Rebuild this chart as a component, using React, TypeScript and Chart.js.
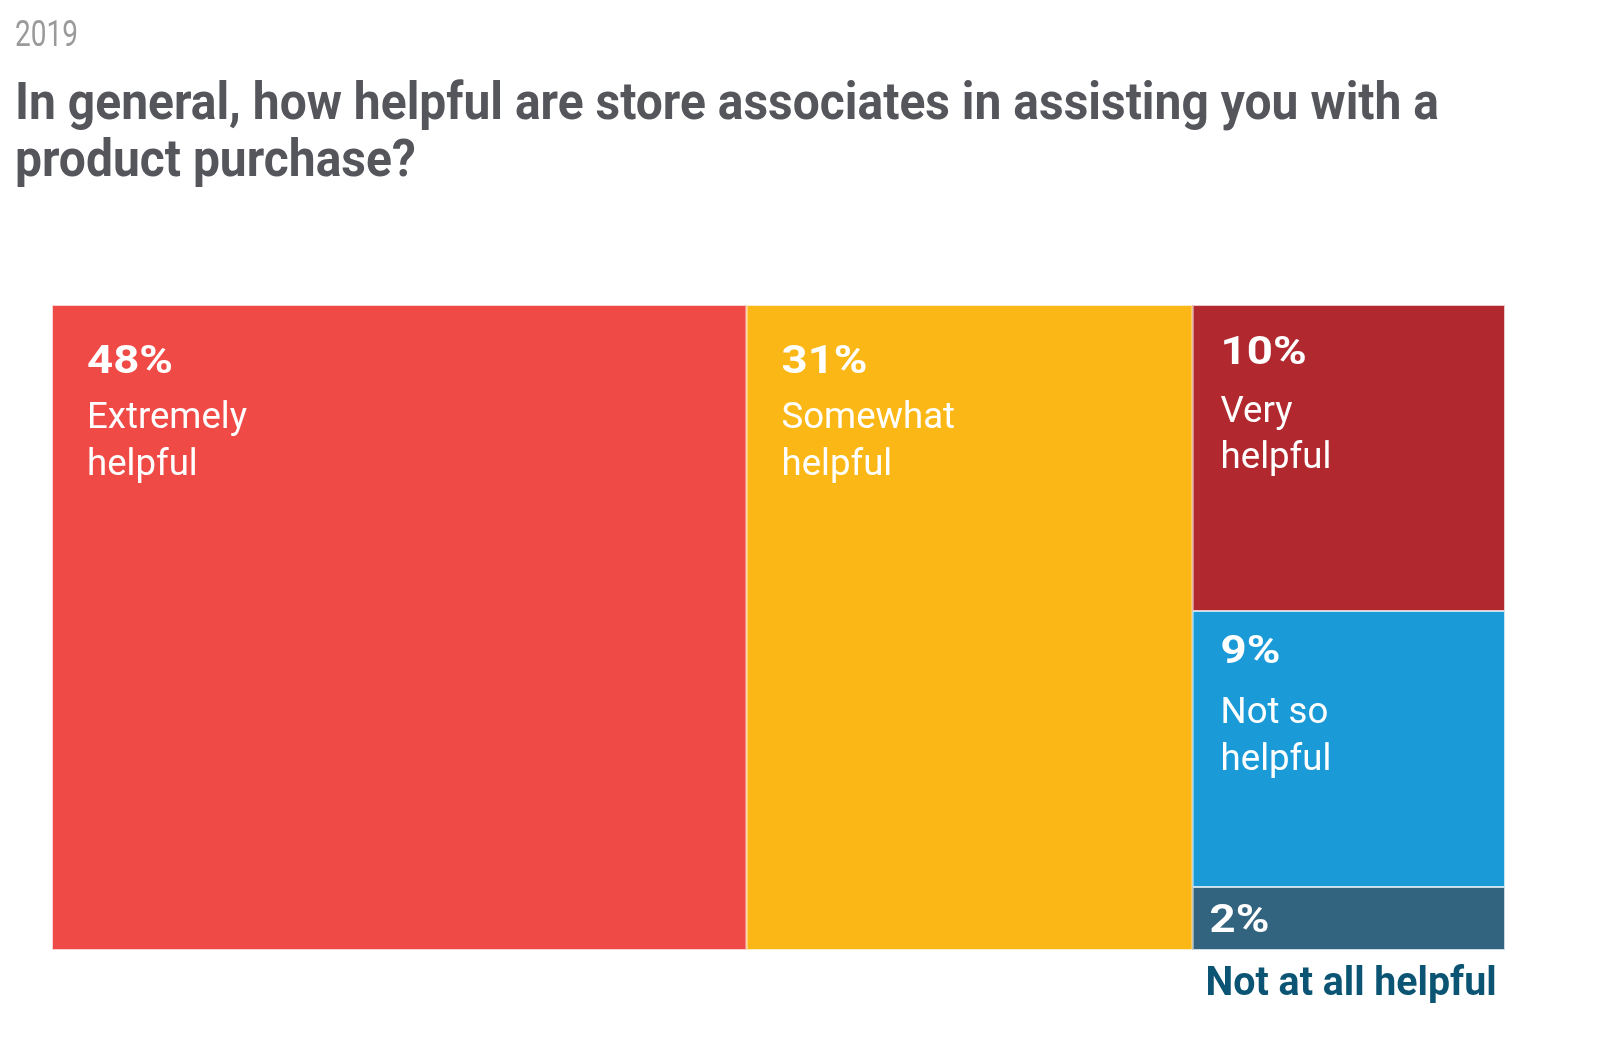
import React, { useEffect, useRef } from "react";
import { Chart, registerables } from "chart.js";
Chart.register(...registerables);

const yearLabel = "2019";
const titleLines = [
  "In general, how helpful are store associates in assisting you with a",
  "product purchase?",
];
const categories = [
  "Extremely helpful",
  "Somewhat helpful",
  "Very helpful",
  "Not so helpful",
  "Not at all helpful",
];
const values = [47.8, 30.7, 10.2, 9.2, 2.1];
const percentLabels = ["48%", "31%", "10%", "9%", "2%"];
const nameLines = [
  ["Extremely", "helpful"],
  ["Somewhat", "helpful"],
  ["Very", "helpful"],
  ["Not so", "helpful"],
  [],
];
const outsideLabels = ["", "", "", "", "Not at all helpful"];
const columnOf = [0, 1, 2, 2, 2];

// styling
const colors = ["#f04a47", "#fbb716", "#b1282f", "#1a9ad6", "#32637f"];
const labelStyle = [
  { dx: 35, pct: 68, lines: [123, 170] },
  { dx: 35, pct: 68, lines: [123, 170] },
  { dx: 28, pct: 59, lines: [117, 163] },
  { dx: 28, pct: 52, lines: [112, 159] },
  { dx: 17, pct: 45, lines: [] },
];
const FONT = "Roboto, 'Noto Sans', sans-serif";

function drawFit(ctx: CanvasRenderingContext2D, text: string, x: number, y: number, sx: number) {
  ctx.save();
  ctx.translate(x, y);
  ctx.scale(sx, 1);
  ctx.fillText(text, 0, 0);
  ctx.restore();
}

const treemapPlugin = {
  id: "treemap",
  afterDatasetsDraw(chart: any) {
    const ctx: CanvasRenderingContext2D = chart.ctx;
    const xs = chart.scales.x;
    const ys = chart.scales.y;
    const nCols = Math.max(...columnOf) + 1;
    const colTotals: number[] = new Array(nCols).fill(0);
    values.forEach((v, i) => (colTotals[columnOf[i]] += v));
    const total = colTotals.reduce((a, b) => a + b, 0);
    const colStart: number[] = [];
    let acc = 0;
    for (let c = 0; c < nCols; c++) {
      colStart.push(acc);
      acc += colTotals[c];
    }
    const colAcc: number[] = new Array(nCols).fill(0);

    ctx.save();
    ctx.textBaseline = "alphabetic";
    ctx.textAlign = "left";
    ctx.font = `bold 38px ${FONT}`;
    const pctSx = 86 / ctx.measureText("48%").width;
    ctx.font = `37px ${FONT}`;
    const nameSx = 160 / ctx.measureText("Extremely").width;

    values.forEach((v, i) => {
      const c = columnOf[i];
      const x0v = (colStart[c] / total) * 100;
      const x1v = ((colStart[c] + colTotals[c]) / total) * 100;
      const y0v = (colAcc[c] / colTotals[c]) * 100;
      colAcc[c] += v;
      const y1v = (colAcc[c] / colTotals[c]) * 100;
      const px0 = xs.getPixelForValue(x0v);
      const px1 = xs.getPixelForValue(x1v);
      const py0 = ys.getPixelForValue(y0v);
      const py1 = ys.getPixelForValue(y1v);
      ctx.fillStyle = colors[i];
      ctx.fillRect(px0, py0, px1 - px0, py1 - py0);
      ctx.strokeStyle = "rgba(255,255,255,0.75)";
      ctx.lineWidth = 1;
      ctx.strokeRect(px0 + 0.5, py0 + 0.5, px1 - px0 - 1, py1 - py0 - 1);

      const st = labelStyle[i];
      ctx.fillStyle = "#ffffff";
      ctx.font = `bold 38px ${FONT}`;
      drawFit(ctx, percentLabels[i], px0 + st.dx, py0 + st.pct, pctSx);
      ctx.font = `37px ${FONT}`;
      nameLines[i].forEach((ln, k) => {
        drawFit(ctx, ln, px0 + st.dx, py0 + st.lines[k], nameSx);
      });
      if (outsideLabels[i]) {
        ctx.font = `bold 41px ${FONT}`;
        ctx.fillStyle = "#0b5473";
        const w = ctx.measureText(outsideLabels[i]).width;
        drawFit(ctx, outsideLabels[i], px0 + 13, py1 + 45, 291 / w);
      }
    });

    // header
    ctx.fillStyle = "#9a9a9c";
    ctx.font = `36px ${FONT}`;
    const yw = ctx.measureText(yearLabel).width;
    drawFit(ctx, yearLabel, 15, 46, 63 / yw);
    ctx.fillStyle = "#55565b";
    ctx.font = `bold 52px ${FONT}`;
    const tw = ctx.measureText(titleLines[0]).width;
    const tsx = 1424 / tw;
    drawFit(ctx, titleLines[0], 15, 119, tsx);
    drawFit(ctx, titleLines[1], 15, 176, tsx);
    ctx.restore();
  },
};

export default function App() {
  const ref = useRef<HTMLCanvasElement>(null);
  useEffect(() => {
    document.body.style.margin = "0";
    const chart = new Chart(ref.current!, {
      type: "scatter",
      data: {
        labels: categories,
        datasets: [{ label: "share", data: [], pointRadius: 0 }],
      },
      options: {
        animation: false,
        responsive: false,
        layout: { padding: { left: 52, right: 95, top: 305, bottom: 97 } },
        plugins: { legend: { display: false }, title: { display: false }, tooltip: { enabled: false } },
        scales: {
          x: { type: "linear", min: 0, max: 100, display: false },
          y: { type: "linear", min: 0, max: 100, reverse: true, display: false },
        },
      },
      plugins: [treemapPlugin],
    });
    return () => chart.destroy();
  }, []);
  return (
    <div style={{ position: "absolute", left: 0, top: 0, width: 1600, height: 1047, background: "#fff" }}>
      <canvas ref={ref} width={1600} height={1047} style={{ width: 1600, height: 1047 }} />
    </div>
  );
}
